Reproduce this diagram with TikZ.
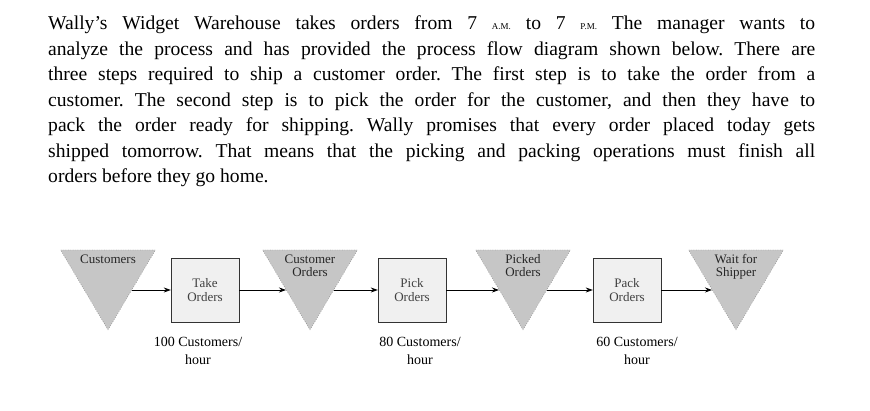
\documentclass[tikz,border=0pt]{standalone}
\usepackage{fontspec}
\setmainfont{Liberation Serif}
\usetikzlibrary{shapes.geometric,arrows.meta}
\begin{document}
\frenchspacing
\begin{tikzpicture}[x=1pt,y=1pt,
  tri/.style={isosceles triangle, isosceles triangle stretches, shape border rotate=270,
    minimum width=95, minimum height=80, inner sep=0, draw=black!70, dotted, fill=gray!45},
  proc/.style={draw=black!80, fill=gray!12, minimum width=68, minimum height=64, align=center,
    font=\fontsize{13}{14}\selectfont, text=black!75},
  lab/.style={align=center, font=\fontsize{13}{13}\selectfont, text=black!85},
  rate/.style={align=center, font=\fontsize{14}{18}\selectfont},
  arr/.style={-{Stealth[length=7pt,width=5pt]}, thick}]
\useasboundingbox (0,0) rectangle (870,-411);
\node[anchor=north west, text width=767, align=justify, inner sep=0,
  font=\fontsize{19.6}{25.5}\selectfont] (para) at (48,-16)
{Wally's Widget Warehouse takes orders from 7 {\small A.M.} to 7 {\small P.M.} The manager wants to\linebreak
analyze the process and has provided the process flow diagram shown below. There are\linebreak
three steps required to ship a customer order. The first step is to take the order from a\linebreak
customer. The second step is to pick the order for the customer, and then they have to\linebreak
pack the order ready for shipping. Wally promises that every order placed today gets\linebreak
shipped tomorrow. That means that the picking and packing operations must finish all\linebreak
orders before they go home.};
\node[tri] (t1) at (108,-277) {};
\node[proc] (b1) at (205,-290) {Take\\Orders};
\node[tri] (t2) at (310,-277) {};
\node[proc] (b2) at (412,-290) {Pick\\Orders};
\node[tri] (t3) at (523,-277) {};
\node[proc] (b3) at (627,-290) {Pack\\Orders};
\node[tri] (t4) at (736,-277) {};
\node[lab, anchor=north] (l1) at (108,-251) {Customers};
\node[lab, anchor=north] (l2) at (310,-251) {Customer\\Orders};
\node[lab, anchor=north] (l3) at (523,-251) {Picked\\Orders};
\node[lab, anchor=north] (l4) at (736,-251) {Wait for\\Shipper};
\draw[arr] ([xshift=24]t1.center |- b1.west) -- (b1.west);
\draw[arr] (b1.east) -- ([xshift=-24]t2.center |- b1.east);
\draw[arr] ([xshift=24]t2.center |- b2.west) -- (b2.west);
\draw[arr] (b2.east) -- ([xshift=-24]t3.center |- b2.east);
\draw[arr] ([xshift=24]t3.center |- b3.west) -- (b3.west);
\draw[arr] (b3.east) -- ([xshift=-24]t4.center |- b3.east);
\node[rate, anchor=north] (r1) at (198,-334) {100 Customers/\\hour};
\node[rate, anchor=north] (r2) at (420,-334) {80 Customers/\\hour};
\node[rate, anchor=north] (r3) at (637,-334) {60 Customers/\\hour};
\end{tikzpicture}
\end{document}
